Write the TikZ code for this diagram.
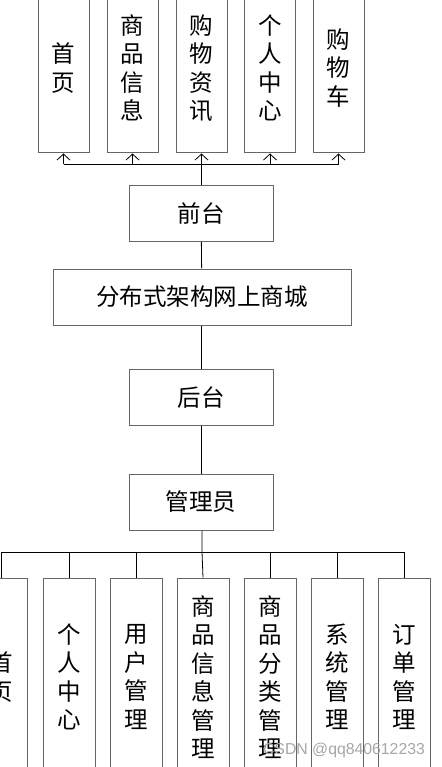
\documentclass[tikz,border=0pt]{standalone}
\usepackage{fontspec}
\newfontfamily\cjk{Noto Sans CJK SC}
\newfontfamily\wmfont{Liberation Sans}
\usetikzlibrary{arrows.meta}
\begin{document}
\begin{tikzpicture}[x=1pt,y=-1pt,
  box/.style={draw=black!60,line width=1pt,inner sep=0pt,align=center,
    font=\cjk\fontsize{23.5}{28.5}\selectfont},
  col/.style={box,minimum width=51pt,minimum height=170pt},
  low/.style={box,minimum width=52pt,minimum height=198pt},
  mid/.style={box,minimum width=144pt,minimum height=56pt},
  wire/.style={line width=0.8pt,black},
  arr/.style={wire,-{Straight Barb[length=6pt,width=13pt,line width=0.8pt]}}]

  \useasboundingbox (0,0) rectangle (441,767);

  % front modules
  \node[col] (f1) at (63.5,68) {首\\页};
  \node[col] (f2) at (132.5,68) {商\\品\\信\\息};
  \node[col] (f3) at (201.5,68) {购\\物\\资\\讯};
  \node[col] (f4) at (270,68) {个\\人\\中\\心};
  \node[col] (f5) at (338.5,68) {购\\物\\车};

  \node[mid] (qt) at (201,213.5) {前台};
  \node[box,minimum width=298pt,minimum height=56pt] (mall) at (202,297) {分布式架构网上商城};
  \node[mid] (ht) at (201,397.5) {后台};
  \node[mid] (adm) at (201,502) {管理员};

  % back modules
  \node[low] (b1) at (1.5,677) {首\\页};
  \node[low] (b2) at (69,677) {个\\人\\中\\心};
  \node[low] (b3) at (136,677) {用\\户\\管\\理};
  \node[low] (b4) at (203,677) {商\\品\\信\\息\\管\\理};
  \node[low] (b5) at (270.5,677) {商\\品\\分\\类\\管\\理};
  \node[low] (b6) at (337.5,677) {系\\统\\管\\理};
  \node[low] (b7) at (404.5,677) {订\\单\\管\\理};

  \coordinate (tbus) at (201,164);
  \coordinate (bus) at (202,552);

  \draw[wire] (qt) -- (tbus);
  \draw[wire] (f1.south |- tbus) -- (f5.south |- tbus);
  \draw[arr] (f1.south |- tbus) -- (f1.south);
  \draw[arr] (f2.south |- tbus) -- (f2.south);
  \draw[arr] (f3.south |- tbus) -- (f3.south);
  \draw[arr] (f4.south |- tbus) -- (f4.south);
  \draw[arr] (f5.south |- tbus) -- (f5.south);

  \draw[wire] (qt) -- (mall);
  \draw[wire] (mall.south -| qt) -- (ht);
  \draw[wire] (ht) -- (adm);

  \draw[wire] (adm.south -| bus) -- (bus) -- (b4.north);
  \draw[wire] (b1.north |- bus) -- (b7.north |- bus);
  \draw[wire] (b1.north |- bus) -- (b1.north);
  \draw[wire] (b2.north |- bus) -- (b2.north);
  \draw[wire] (b3.north |- bus) -- (b3.north);
  \draw[wire] (b5.north |- bus) -- (b5.north);
  \draw[wire] (b6.north |- bus) -- (b6.north);
  \draw[wire] (b7.north |- bus) -- (b7.north);

  \node[text=black!35,font=\wmfont\fontsize{15.8}{18}\selectfont,inner sep=0pt] (wm) at (344,750) {CSDN @qq840612233};
\end{tikzpicture}
\end{document}
